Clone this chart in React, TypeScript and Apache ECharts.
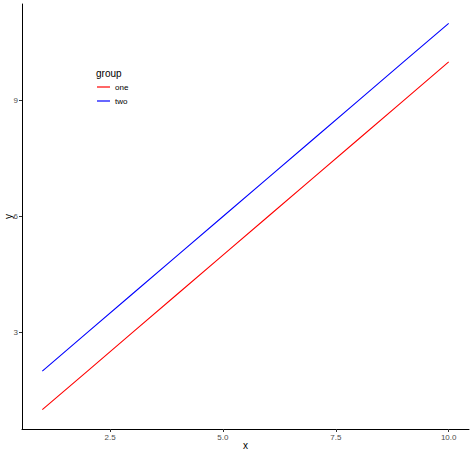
import React, { useEffect, useRef } from 'react';
import * as echarts from 'echarts';

const xValues = [1, 2, 3, 4, 5, 6, 7, 8, 9, 10];
const groupOne = [1, 2, 3, 4, 5, 6, 7, 8, 9, 10];
const groupTwo = [2, 3, 4, 5, 6, 7, 8, 9, 10, 11];
const xTicks = [2.5, 5, 7.5, 10];
const yTicks = [3, 6, 9];

const FONT = '"Liberation Sans", Arial, sans-serif';

const App: React.FC = () => {
  const chartRef = useRef<HTMLDivElement>(null);

  useEffect(() => {
    document.body.style.margin = '0';
    if (!chartRef.current) return;

    const chart = echarts.init(chartRef.current, undefined, { renderer: 'svg' });

    const options: echarts.EChartsOption = {
      animation: false,
      backgroundColor: '#ffffff',
      grid: { left: 22, right: 5, top: 4, bottom: 25, containLabel: false, outerBoundsMode: 'none' } as any,
      legend: {
        orient: 'vertical',
        left: 97,
        top: 83,
        padding: 0,
        icon: 'rect',
        itemWidth: 13,
        itemHeight: 1.2,
        itemGap: 6,
        textStyle: { fontFamily: FONT, fontSize: 8, color: '#000' },
        data: ['one', 'two']
      },
      graphic: [
        {
          type: 'text',
          left: 96,
          top: 68,
          style: { text: 'group', fontFamily: FONT, fontSize: 10, fill: '#000' }
        }
      ],
      xAxis: {
        type: 'value',
        min: 0.55,
        max: 10.45,
        name: 'x',
        nameLocation: 'middle',
        nameGap: 11,
        nameMoveOverlap: false,
        nameTextStyle: { fontFamily: FONT, fontSize: 10, color: '#000' },
        splitLine: { show: false },
        axisLine: { lineStyle: { color: '#000', width: 1 } },
        axisTick: { customValues: xTicks, length: 3, lineStyle: { color: '#333' } },
        axisLabel: {
          customValues: xTicks,
          formatter: (v: number) => v.toFixed(1),
          fontFamily: FONT,
          fontSize: 8,
          color: '#4d4d4d',
          margin: 4
        }
      } as any,
      yAxis: {
        type: 'value',
        min: 0.5,
        max: 11.5,
        name: 'y',
        nameLocation: 'middle',
        nameGap: 9,
        nameMoveOverlap: false,
        nameTextStyle: { fontFamily: FONT, fontSize: 10, color: '#000' },
        splitLine: { show: false },
        axisLine: { show: true, lineStyle: { color: '#000', width: 1 } },
        axisTick: { show: true, customValues: yTicks, length: 3, lineStyle: { color: '#333' } },
        axisLabel: {
          customValues: yTicks,
          fontFamily: FONT,
          fontSize: 8,
          color: '#4d4d4d',
          margin: 4
        }
      } as any,
      series: [
        {
          name: 'one',
          type: 'line',
          data: xValues.map((x, i) => [x, groupOne[i]]),
          showSymbol: false,
          color: '#ff0000',
          lineStyle: { width: 1.1 }
        },
        {
          name: 'two',
          type: 'line',
          data: xValues.map((x, i) => [x, groupTwo[i]]),
          showSymbol: false,
          color: '#0000ff',
          lineStyle: { width: 1.1 }
        }
      ]
    };

    chart.setOption(options);

    return () => {
      chart.dispose();
    };
  }, []);

  return <div ref={chartRef} style={{ width: 474, height: 454 }} />;
};

export default App;
